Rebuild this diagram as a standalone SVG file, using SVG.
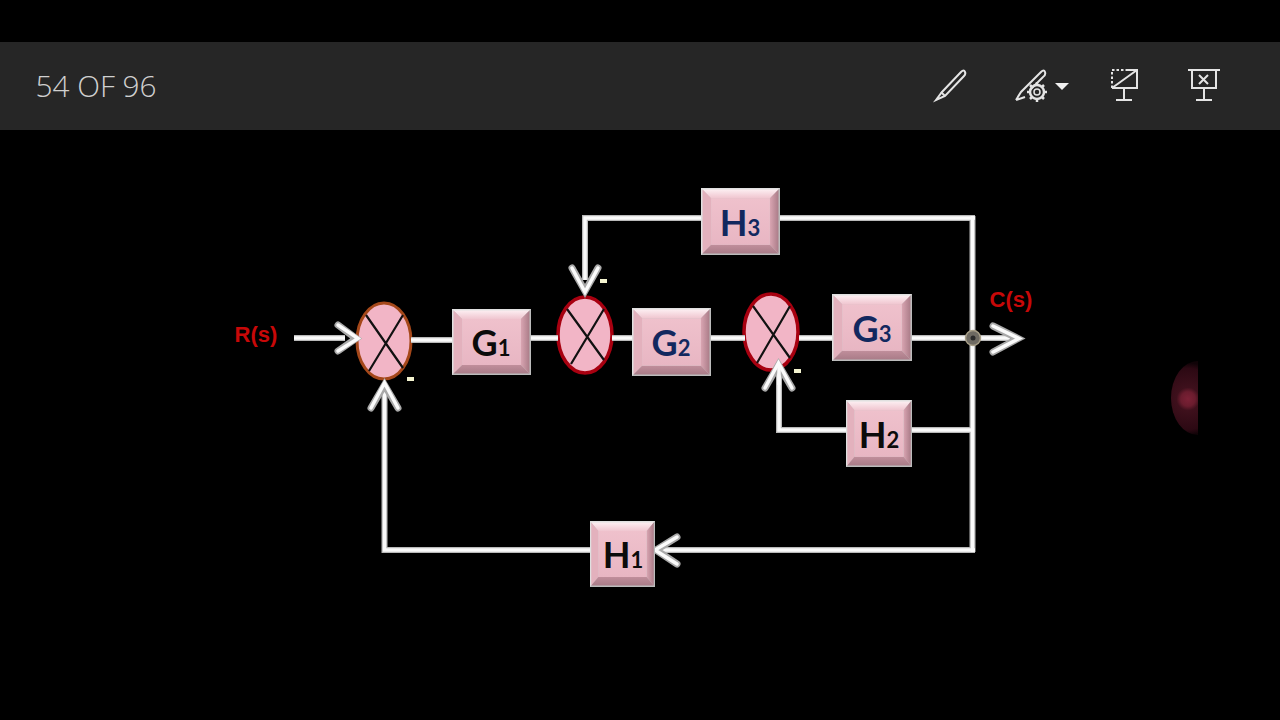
<svg xmlns="http://www.w3.org/2000/svg" width="1280" height="720" viewBox="0 0 1280 720">
<defs>
<linearGradient id="face" x1="0" y1="0" x2="0" y2="1"><stop offset="0" stop-color="#efc1cc"/><stop offset="1" stop-color="#e8b6c3"/></linearGradient>
<linearGradient id="topB" x1="0" y1="0" x2="0" y2="1"><stop offset="0" stop-color="#fdf0f3"/><stop offset="1" stop-color="#f0c6d0"/></linearGradient>
<linearGradient id="botB" x1="0" y1="0" x2="0" y2="1"><stop offset="0" stop-color="#c08e9b"/><stop offset="1" stop-color="#a87b87"/></linearGradient>
<linearGradient id="rightB" x1="0" y1="0" x2="1" y2="0"><stop offset="0" stop-color="#d9a5b2"/><stop offset="1" stop-color="#a87a86"/></linearGradient>
<radialGradient id="glow" gradientUnits="userSpaceOnUse" cx="1188" cy="399" r="36"><stop offset="0" stop-color="#7c2136"/><stop offset="0.2" stop-color="#6a1c2e"/><stop offset="0.32" stop-color="#3e101c"/><stop offset="0.85" stop-color="#2c0913"/><stop offset="1" stop-color="#100307"/></radialGradient>
<clipPath id="halfClip"><rect x="1160" y="355" width="38" height="90"/></clipPath>
<symbol id="bevel" viewBox="0 0 78 66" preserveAspectRatio="none">
<rect width="78" height="66" fill="#c9c9c9"/>
<polygon points="1,1 77,1 68,10 10,10" fill="url(#topB)"/>
<polygon points="1,1 10,10 10,56 1,65" fill="#e3b1bd"/>
<polygon points="77,1 68,10 68,56 77,65" fill="url(#rightB)"/>
<polygon points="1,65 10,56 68,56 77,65" fill="url(#botB)"/>
<rect x="10" y="10" width="58" height="46" fill="url(#face)"/>
<path d="M0.75 65.250V.75H77.250" fill="none" stroke="#e0e0e0" stroke-width="1.500"/>
<path d="M77.250 .75V65.250H.75" fill="none" stroke="#bcbcbc" stroke-width="1.500"/>
</symbol>
</defs>
<style>
.wire{fill:none;stroke:#b9b9b9;stroke-width:6;stroke-linejoin:miter}
.wiretop{fill:none;stroke:#fafafa;stroke-width:3.500;stroke-linejoin:miter}
.head{fill:none;stroke:#a9a9a9;stroke-width:7;stroke-linecap:round;stroke-linejoin:miter}
.headtop{fill:none;stroke:#fbfbfb;stroke-width:3.500;stroke-linecap:round;stroke-linejoin:miter}
.sumfill{fill:#f2b5c6}
.cross{stroke:#111;stroke-width:2.200}
.lab{font-family:Lato,"Liberation Sans",sans-serif;font-size:36px;font-weight:700;text-anchor:middle}
.sub{font-size:22px}
.dark{fill:#0b0b0b}
.navy{fill:#12285f}
.sig{font-family:"Liberation Sans",Arial,sans-serif;font-size:22px;font-weight:700;fill:#c80808;text-anchor:middle}
.minus{fill:#f4f4d0}
.ic{fill:none;stroke:#e4e4e4;stroke-width:2}
</style>
<rect width="1280" height="720" fill="#000"/>
<g id="toolbar">
<rect y="42" width="1280" height="88" fill="#262626"/>
<text x="96" y="97" font-family="'Open Sans','Liberation Sans',sans-serif" font-weight="300" font-size="30" fill="#d0d0d0" text-anchor="middle" textLength="121" lengthAdjust="spacingAndGlyphs">54 OF 96</text>
<g id="icon-pen" class="ic"><path d="M936 100 L942 92 L961 72 Q964 69 965 72 Q966 74 964 76 L945 96 Z"/><path d="M941 92L945 96"/></g>
<g id="icon-pen-settings" class="ic"><path d="M1016 100 L1021 92 L1041 72 Q1044 69 1045 72 Q1046 75 1043 77 L1030 90 M1025 97L1016 100Z"/><circle cx="1037" cy="92" r="7" stroke-width="2.500"/><circle cx="1037" cy="92" r="3" stroke-width="1.500"/><path d="M1037 82v3M1037 99v3M1027 92h3M1044 92h3M1030 85l2 2M1042 97l2 2M1030 99l2-2M1042 87l2-2" stroke-width="2.500"/></g>
<polygon id="icon-caret" points="1055,83 1069,83 1062,90" fill="#f0f0f0"/>
<g id="icon-screen" class="ic"><path d="M1112 88H1137V70H1126M1112 88L1137 70"/><path d="M1112 88V70H1126" stroke-dasharray="2.500 2"/><path d="M1124 88V100M1116 100H1132"/></g>
<g id="icon-close" class="ic"><path d="M1188 70H1220M1192 70V88H1216V70M1204 88V100M1196 100H1212M1199 75L1208 84M1208 75L1199 84"/></g>
</g>
<g id="pointer-glow"><ellipse cx="1198" cy="398" rx="27" ry="37" clip-path="url(#halfClip)" fill="url(#glow)"/></g>
<g id="sum1"><ellipse class="sumfill" cx="384" cy="341" rx="27" ry="38" stroke="#a5481a" stroke-width="3"/><path class="cross" d="M366 315L403 368M403 315L369 371"/></g>
<g id="sum2"><ellipse class="sumfill" cx="585" cy="335" rx="27" ry="38" stroke="#a80010" stroke-width="3.500"/><path class="cross" d="M567 309L604 360M604 309L571 364"/></g>
<g id="sum3"><ellipse class="sumfill" cx="771" cy="332" rx="27" ry="38" stroke="#a80010" stroke-width="3.500"/><path class="cross" d="M753 306L790 358M790 306L757 363"/></g>
<g id="connectors">
<path id="wires-under" class="wire" d="M294 338H345M411 340H453M530 338H558M612 338H633M710 338H745M799 338H834M911 338H1010M972.500 216V552M780 218H975M702 218H585V280M911 430H972M847 430H779V372M975 550H660M592 550H384.500V392"/>
<path id="wires-over" class="wiretop" d="M294 338H345M411 340H453M530 338H558M612 338H633M710 338H745M799 338H834M911 338H1010M972.500 216V552M780 218H975M702 218H585V280M911 430H972M847 430H779V372M975 550H660M592 550H384.500V392"/>
<path class="head" d="M338 325L356 338.500L338 351"/><path class="headtop" d="M338 325L358 338.500L338 351"/>
<path class="head" d="M371 408L384.500 385L398 408"/><path class="headtop" d="M371 408L384.500 383L398 408"/>
<path class="head" d="M572 268L585 291L598 268"/><path class="headtop" d="M572 268L585 292L598 268"/>
<path class="head" d="M993 326L1018 338.500L993 352"/><path class="headtop" d="M993 326L1019 338.500L993 352"/>
<path class="head" d="M677 537L656 550L677 564"/><path class="headtop" d="M677 537L655 550L677 564"/>
<path class="head" d="M765 388L778.500 365L792 388"/><path class="headtop" d="M765 388L778.500 363L792 388"/>
<path class="wiretop" d="M779 366V385"/>
</g>
<g id="junction"><circle cx="973" cy="338" r="7.500" fill="#6e6a62" stroke="#a89f88" stroke-width="1.500"/><circle cx="973" cy="338" r="2.500" fill="#2a2a2a"/></g>
<g id="G1"><use href="#bevel" x="452" y="309" width="79" height="66"/><text class="lab dark" x="491" y="356">G<tspan class="sub">1</tspan></text></g>
<g id="G2"><use href="#bevel" x="632" y="308" width="79" height="68"/><text class="lab navy" x="671" y="356">G<tspan class="sub">2</tspan></text></g>
<g id="G3"><use href="#bevel" x="832" y="294" width="80" height="67"/><text class="lab navy" x="872" y="342">G<tspan class="sub">3</tspan></text></g>
<g id="H3"><use href="#bevel" x="701" y="188" width="79" height="67"/><text class="lab navy" x="740" y="236">H<tspan class="sub">3</tspan></text></g>
<g id="H2"><use href="#bevel" x="846" y="400" width="66" height="67"/><text class="lab dark" x="879" y="448">H<tspan class="sub">2</tspan></text></g>
<g id="H1"><use href="#bevel" x="590" y="521" width="65" height="66"/><text class="lab dark" x="623" y="568">H<tspan class="sub">1</tspan></text></g>
<g id="signals">
<text class="sig" x="256" y="342">R(s)</text>
<text class="sig" x="1011" y="307">C(s)</text>
<rect class="minus" x="407" y="377" width="7" height="4"/>
<rect class="minus" x="600" y="279" width="7" height="4"/>
<rect class="minus" x="794" y="369" width="7" height="4"/>
</g>
</svg>
